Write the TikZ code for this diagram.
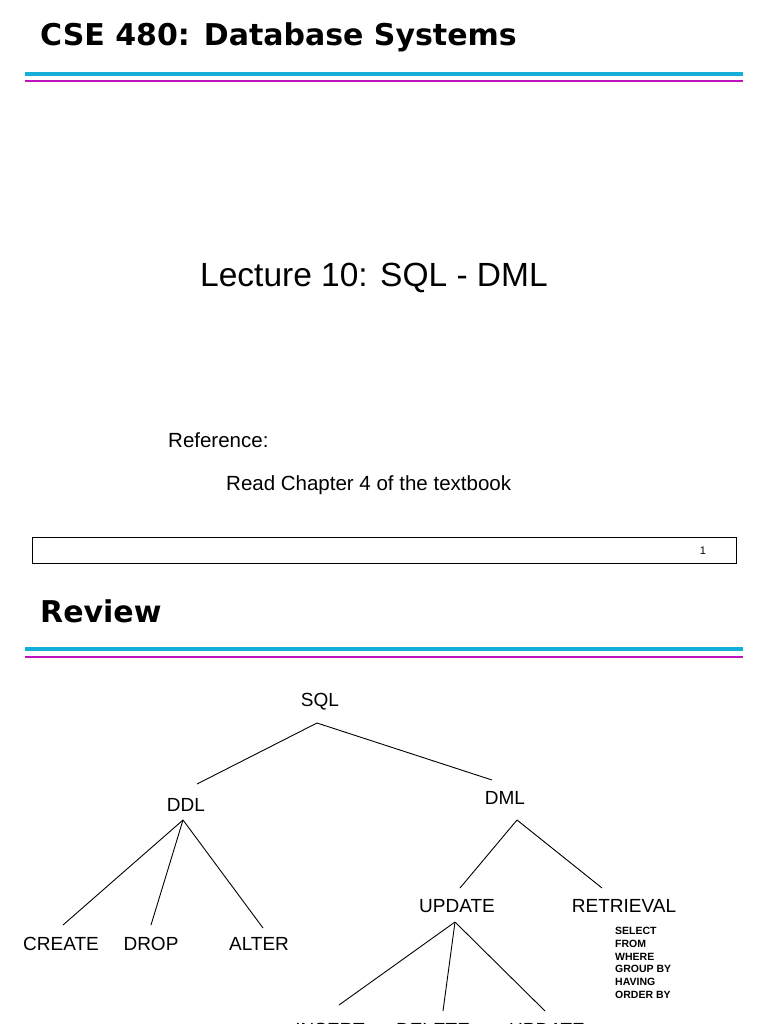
\documentclass[tikz,border=0pt]{standalone}
\usepackage{fontspec}
\setmainfont{Liberation Sans}
\newfontfamily\titlefont{DejaVu Sans}
\definecolor{cy}{RGB}{20,175,215}
\definecolor{mg}{RGB}{190,20,190}
\begin{document}
\begin{tikzpicture}[x=1pt,y=-1pt,
  lbl/.style={inner sep=0pt,font=\fontsize{19}{19}\selectfont},
  ttl/.style={inner sep=0pt,anchor=base west,font=\titlefont\bfseries\fontsize{30}{30}\selectfont},
  edge/.style={line width=0.9pt}]
\useasboundingbox (0,0) rectangle (768,1024);
\clip (0,0) rectangle (768,1024);
% slide 1
\node[ttl] (t1) at (40,46) {CSE 480: Database Systems};
\draw[cy,line width=4pt] (25,74) -- (743,74);
\draw[mg,line width=2.5pt] (25,81) -- (743,81);
\node[inner sep=0pt,anchor=base west,font=\fontsize{33.5}{33.5}\selectfont] (lec) at (200,286) {Lecture 10: SQL - DML};
\node[inner sep=0pt,anchor=base west,font=\fontsize{20.5}{20.5}\selectfont] (ref) at (168,447) {Reference:};
\node[inner sep=0pt,anchor=base west,font=\fontsize{20.5}{20.5}\selectfont] (rd) at (226,490) {Read Chapter 4 of the textbook};
\draw[line width=0.8pt] (32,537) rectangle (736,563);
\node[inner sep=0pt,font=\fontsize{11}{11}\selectfont] (pg) at (703,551) {1};
% slide 2
\node[ttl] (t2) at (40,622) {Review};
\draw[cy,line width=4pt] (25,649) -- (743,649);
\draw[mg,line width=2.5pt] (25,657) -- (743,657);
\node[lbl] (sql) at (320,702) {SQL};
\node[lbl] (ddl) at (186,805) {DDL};
\node[lbl] (dml) at (505,798) {DML};
\node[lbl] (cr) at (61,944) {CREATE};
\node[lbl] (dr) at (151,944) {DROP};
\node[lbl] (al) at (259,944) {ALTER};
\node[lbl] (up) at (457,906) {UPDATE};
\node[lbl] (ret) at (624,906) {RETRIEVAL};
\node[inner sep=0pt,anchor=north west,align=left,font=\bfseries\fontsize{10.5}{12.8}\selectfont] (sel) at (615,927) {SELECT\\FROM\\WHERE\\GROUP BY\\HAVING\\ORDER BY};
\node[lbl] (ins) at (330,1030) {INSERT};
\node[lbl] (del) at (433,1030) {DELETE};
\node[lbl] (up2) at (547,1030) {UPDATE};
\coordinate (sqlb) at (317,723);
\coordinate (ddlb) at (183,820);
\coordinate (dmlb) at (517,820);
\coordinate (upb) at (455,922);
\draw[edge] (sqlb) -- (197,784) coordinate (ddlt);
\draw[edge] (sqlb) -- (492,780) coordinate (dmlt);
\draw[edge] (ddlb) -- (63,925) coordinate (crt);
\draw[edge] (ddlb) -- (151,925) coordinate (drt);
\draw[edge] (ddlb) -- (263,928) coordinate (alt);
\draw[edge] (dmlb) -- (460,888) coordinate (upt);
\draw[edge] (dmlb) -- (602,888) coordinate (rett);
\draw[edge] (upb) -- (339,1005) coordinate (inst);
\draw[edge] (upb) -- (443,1011) coordinate (delt);
\draw[edge] (upb) -- (545,1011) coordinate (up2t);
\end{tikzpicture}
\end{document}
